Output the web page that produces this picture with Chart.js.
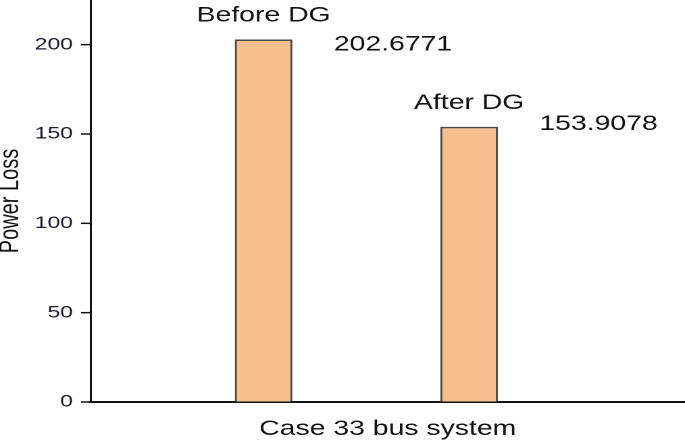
<!DOCTYPE html>
<html>
<head>
<meta charset="utf-8">
<script src="https://cdn.jsdelivr.net/npm/chart.js@4/dist/chart.umd.min.js"></script>
<style>
  html, body { margin: 0; padding: 0; background: #fff; overflow: hidden; }
  /* the source picture is stretched sideways, so draw narrow and widen */
  #wrap { width: 507px; height: 443px; transform: scaleX(1.351); transform-origin: 0 0; }
</style>
</head>
<body>
<div id="wrap"><canvas id="lossChart" width="507" height="443"></canvas></div>
<script>
// data
const categories = ['Before DG', 'After DG'];
const barPositions = [1, 2];
const powerLoss = [202.6771, 153.9078];
const xTitle = 'Case 33 bus system';
const yTitle = 'Power Loss';

Chart.defaults.font.family = '"Liberation Sans", Arial, sans-serif';
Chart.defaults.color = '#111';

// ticks drawn by hand: long ones at labelled values, short ones between
const axisTicks = {
  id: 'axisTicks',
  afterDraw(chart) {
    const ctx = chart.ctx;
    const y = chart.scales.y;
    const left = chart.chartArea.left;
    ctx.save();
    ctx.strokeStyle = '#111';
    ctx.lineWidth = 1.5;
    y.ticks.forEach(t => {
      const py = y.getPixelForValue(t.value);
      const len = (t.value % 50 === 0) ? 7 : 3.5;
      ctx.beginPath();
      ctx.moveTo(left - len, py);
      ctx.lineTo(left, py);
      ctx.stroke();
    });
    ctx.restore();
  }
};

// names above the bars and values beside them
const barText = {
  id: 'barText',
  afterDatasetsDraw(chart, args, opts) {
    const ctx = chart.ctx;
    const meta = chart.getDatasetMeta(0);
    ctx.save();
    ctx.fillStyle = '#111';
    ctx.font = '21px "Liberation Sans", Arial, sans-serif';
    ctx.textBaseline = 'middle';
    meta.data.forEach((bar, i) => {
      ctx.textAlign = 'center';
      ctx.fillText(categories[i], bar.x, bar.y - 24);
      ctx.textAlign = 'left';
      ctx.fillText(powerLoss[i].toFixed(4), bar.x + 52, bar.y + opts.valueShift[i]);
    });
    ctx.restore();
  }
};

const ctx = document.getElementById('lossChart').getContext('2d');
const lossChart = new Chart(ctx, {
  type: 'bar',
  data: {
    datasets: [{
      label: yTitle,
      data: barPositions.map((p, i) => ({ x: p, y: powerLoss[i] })),
      backgroundColor: '#f5bf8f',
      borderColor: '#4a4a4a',
      borderWidth: 1.5,
      borderSkipped: 'bottom',
      barThickness: 42
    }]
  },
  options: {
    responsive: false,
    animation: false,
    devicePixelRatio: 2,
    layout: { padding: 0 },
    plugins: {
      legend: { display: false },
      tooltip: { enabled: false },
      barText: { valueShift: [5, -3] }
    },
    scales: {
      x: {
        type: 'linear',
        offset: false,
        min: 0.158,
        max: 3.05,
        grid: { display: false, drawTicks: false },
        border: { display: true, color: '#111', width: 2 },
        ticks: { display: false },
        title: {
          display: true,
          text: xTitle,
          font: { size: 21 },
          color: '#111',
          padding: { top: 4, bottom: 1 }
        },
        afterFit(s) { s.height = 41; s.paddingLeft = 0; s.paddingRight = 0; }
      },
      y: {
        min: 0,
        max: 225,
        grid: { drawOnChartArea: false, drawTicks: false },
        border: { display: true, color: '#111', width: 1.5 },
        ticks: {
          stepSize: 25,
          padding: 13,
          font: { size: 17 },
          color: '#1a1a30',
          callback: v => (v % 50 === 0 ? v : null)
        },
        title: {
          display: true,
          text: yTitle,
          font: { size: 20, lineHeight: 0.8 },
          color: '#111',
          padding: 0
        },
        afterFit(s) { s.width = 67; s.paddingTop = 0; s.paddingBottom = 0; }
      }
    }
  },
  plugins: [axisTicks, barText]
});
</script>
</body>
</html>
